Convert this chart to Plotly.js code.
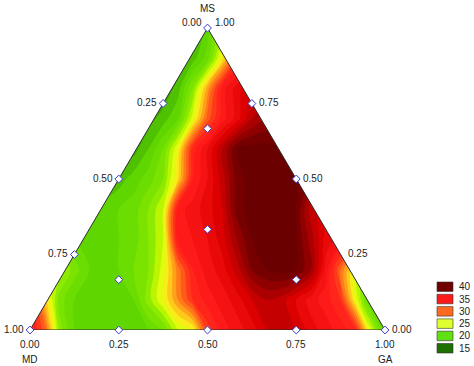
<!DOCTYPE html>
<html><head><meta charset="utf-8">
<script src="https://cdn.plot.ly/plotly-3.0.1.min.js"></script>
<style>html,body{margin:0;padding:0;background:#fff}</style>
</head><body><div id="chart" style="width:474px;height:366px"></div>
<script>
// ---- data ----
const tickValues = [0, 0.25, 0.5, 0.75, 1];
const tickLabels = ['0.00', '0.25', '0.50', '0.75', '1.00'];
// design points (mixture fractions)
const designMS = [1, 0, 0, 0.75, 0.5, 0.25, 0, 0, 0, 0.75, 0.5, 2/3, 1/3, 1/6, 1/6];
const designMD = [0, 1, 0, 0.25, 0.5, 0.75, 0.75, 0.5, 0.25, 0, 0, 1/6, 1/3, 2/3, 1/6];
const designGA = [0, 0, 1, 0, 0, 0, 0.25, 0.5, 0.75, 0.25, 0.5, 1/6, 1/3, 1/6, 2/3];
// response surface; grid columns = GA + MS/2 (step 1/24), rows = MS (step 0.1)
const gridX = [0, 1/24, 2/24, 3/24, 4/24, 5/24, 6/24, 7/24, 8/24, 9/24, 10/24, 11/24, 12/24,
  13/24, 14/24, 15/24, 16/24, 17/24, 18/24, 19/24, 20/24, 21/24, 22/24, 23/24, 1];
const gridY = [0, 0.1, 0.2, 0.3, 0.4, 0.5, 0.6, 0.7, 0.8, 0.9, 1];
const response = [
  [33, 30, 23, 20.5, 20, 20, 20, 20, 20.5, 21.5, 24.5, 25.5, 31, 33, 34, 35, 36.5, 37, 36.5, 35, 34, 33, 32, 25, 20],
  [32, 27, 22, 20.5, 20, 20, 20, 20.5, 23, 25.5, 28.5, 31.5, 33, 34, 35, 36.5, 37.5, 37, 35.5, 34, 33, 31.5, 25.5, 20, 18],
  [25, 24.5, 24, 22, 20.5, 20, 20.5, 21.5, 22.5, 25, 29, 32.5, 34, 35, 37, 39.5, 40.5, 41, 40.5, 38.5, 34, 29.5, 25, 22, 20],
  [21, 21, 21, 20.5, 20, 20, 20.5, 21, 22.5, 24.5, 33, 33.5, 34.5, 36, 38.5, 40.5, 41, 41, 40.5, 38, 35, 34, 33, 32, 31],
  [20, 20, 20, 20, 20, 20, 20.5, 21, 22.5, 24.5, 33, 34, 35, 36.5, 40, 41, 41.5, 41.5, 40.5, 37, 36, 35, 35, 35, 35],
  [18.5, 18.5, 18.5, 18.5, 18.5, 18.5, 19, 20, 21, 22.5, 26.5, 32.5, 34.5, 37, 40, 41, 41.5, 41, 40.5, 40, 40, 40, 40, 40, 40],
  [18, 18, 18, 18, 18, 18, 18, 18, 19.5, 21.5, 25.5, 32, 34.5, 37.5, 40.5, 41, 41, 40.5, 40.5, 40.5, 40.5, 40.5, 40.5, 40.5, 40.5],
  [18, 18, 18, 18, 18, 18, 18, 18, 18, 19, 20.5, 25, 30, 33, 35, 37.5, 38.5, 38.5, 38.5, 38.5, 38.5, 38.5, 38.5, 38.5, 38.5],
  [17.5, 17.5, 17.5, 17.5, 17.5, 17.5, 17.5, 17.5, 17.5, 17.5, 19, 22.5, 28, 33, 35, 36.5, 36.5, 36.5, 36.5, 36.5, 36.5, 36.5, 36.5, 36.5, 36.5],
  [17.5, 17.5, 17.5, 17.5, 17.5, 17.5, 17.5, 17.5, 17.5, 17.5, 17.5, 19, 21, 26, 31, 32, 32, 32, 32, 32, 32, 32, 32, 32, 32],
  [17.5, 17.5, 17.5, 17.5, 17.5, 17.5, 17.5, 17.5, 17.5, 17.5, 17.5, 17.5, 20, 24, 28, 30, 30, 30, 30, 30, 30, 30, 30, 30, 30]
];
const legendValues = [40, 35, 30, 25, 20, 15];
const legendColors = ['#6e0000', '#ff1a1a', '#ff6a20', '#e0ff30', '#5fe010', '#1e7000'];
const scaleValues = [15, 17, 18.5, 20, 21.5, 23, 24.3, 25.5, 27, 28.5, 30, 31.5, 33, 34.5, 36, 37.5, 39, 40.3, 42];
const scaleColors = ['#1a6b00', '#2f9200', '#46b600', '#60d600', '#70e000', '#8eea00', '#c8f800', '#f2ff18', '#ffc81a',
  '#ff8c1a', '#ff5a1a', '#ff2a1a', '#ff1a1a', '#f00e0e', '#dc0000', '#b80000', '#900000', '#6e0000', '#650000'];

// ---- helpers ----
const ZMIN = 15, ZMAX = 42;
const colorscale = scaleValues.map((v, i) => [(v - ZMIN) / (ZMAX - ZMIN), scaleColors[i]]);
const toX = (ms, ga) => ga + ms / 2;
const toY = (ms) => ms;

const L = 30, T = 28, W = 355, H = 302;
const pxX = (px) => (px - L) / W;
const pxY = (py) => (T + H - py) / H;

const font = {family: 'Arial, "Liberation Sans", sans-serif', size: 10, color: '#222'};

const traces = [];
traces.push({
  type: 'contour', x: gridX, y: gridY, z: response,
  zmin: ZMIN, zmax: ZMAX, colorscale: colorscale, showscale: false,
  contours: {coloring: 'fill', start: 15.5, end: 41.5, size: 1},
  line: {width: 0}, hoverinfo: 'skip'
});
// white masks outside the triangle
traces.push({type: 'scatter', mode: 'none', x: [0, 0.5, 0.5, -0.2, -0.2, 0], y: [0, 1, 1.2, 1.2, 0, 0],
  fill: 'toself', fillcolor: '#ffffff', hoverinfo: 'skip'});
traces.push({type: 'scatter', mode: 'none', x: [1, 0.5, 0.5, 1.2, 1.2, 1], y: [0, 1, 1.2, 1.2, 0, 0],
  fill: 'toself', fillcolor: '#ffffff', hoverinfo: 'skip'});
// triangle border
traces.push({type: 'scatter', mode: 'lines', x: [toX(0,0), toX(1,0), toX(0,1), toX(0,0)], y: [toY(0), toY(1), toY(0), toY(0)],
  line: {color: '#2a2a2a', width: 1}, hoverinfo: 'skip'});
// design points
traces.push({type: 'scatter', mode: 'markers',
  x: designMS.map((ms, i) => toX(ms, designGA[i])), y: designMS.map(ms => toY(ms)),
  marker: {symbol: 'diamond', size: 6, color: '#ffffff', line: {color: '#3b3bd0', width: 1}},
  cliponaxis: false, hoverinfo: 'skip'});

const annotations = [];
tickValues.forEach((v, i) => {
  // MD axis on left edge (MD = v, GA = 0)
  annotations.push({x: toX(1 - v, 0), y: toY(1 - v), text: tickLabels[i], showarrow: false, font: font,
    xanchor: 'right', yanchor: 'middle', xshift: -4, yshift: v === 0 ? 6 : 1});
  // GA axis on bottom edge (GA = v, MS = 0)
  annotations.push({x: toX(0, v), y: toY(0), text: tickLabels[i], showarrow: false, font: font,
    xanchor: 'center', yanchor: 'middle', yshift: -14});
  // MS axis on right edge (MS = v, MD = 0)
  annotations.push({x: toX(v, 1 - v), y: toY(v), text: tickLabels[i], showarrow: false, font: font,
    xanchor: 'left', yanchor: 'middle', xshift: 5, yshift: v === 1 ? 6 : 1});
});
annotations.push({x: toX(1, 0), y: toY(1), text: 'MS', showarrow: false, font: font, xanchor: 'center', yanchor: 'middle', yshift: 20});
annotations.push({x: toX(0, 0), y: toY(0), text: 'MD', showarrow: false, font: font, xanchor: 'center', yanchor: 'middle', yshift: -29});
annotations.push({x: toX(0, 1), y: toY(0), text: 'GA', showarrow: false, font: font, xanchor: 'center', yanchor: 'middle', yshift: -29});

const shapes = [];
legendValues.forEach((v, i) => {
  const top = 282 + i * 12.3, bot = top + 9.5;
  shapes.push({type: 'rect', xref: 'paper', yref: 'paper', x0: pxX(437), x1: pxX(453), y0: pxY(bot), y1: pxY(top),
    fillcolor: legendColors[i], line: {color: '#333', width: 0.6}});
  annotations.push({xref: 'paper', yref: 'paper', x: pxX(457), y: pxY((top + bot) / 2), text: String(v), showarrow: false,
    font: font, xanchor: 'left', yanchor: 'middle'});
});

const layout = {
  width: 474, height: 366,
  margin: {l: L, r: 474 - L - W, t: T, b: 366 - T - H},
  paper_bgcolor: '#ffffff', plot_bgcolor: '#ffffff',
  showlegend: false,
  xaxis: {range: [0, 1], visible: false, fixedrange: true},
  yaxis: {range: [0, 1], visible: false, fixedrange: true},
  annotations: annotations, shapes: shapes
};
Plotly.newPlot('chart', traces, layout, {staticPlot: true, displayModeBar: false});
</script></body></html>
